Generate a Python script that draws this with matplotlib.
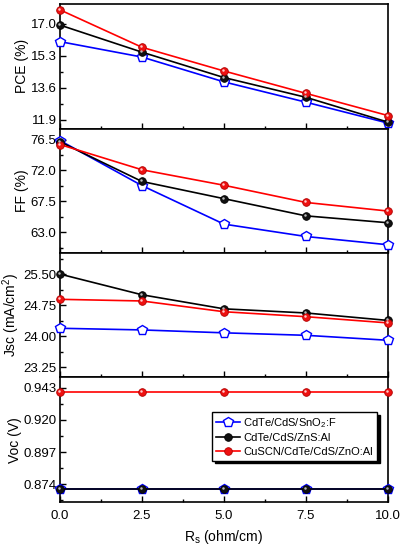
import numpy as np
import matplotlib
matplotlib.use('Agg')
import matplotlib.pyplot as plt
from matplotlib.ticker import MultipleLocator, AutoMinorLocator
from matplotlib.transforms import offset_copy

matplotlib.rcParams['font.family'] = ['Liberation Sans', 'DejaVu Sans']
matplotlib.rcParams['mathtext.fontset'] = 'custom'
matplotlib.rcParams['mathtext.rm'] = 'Liberation Sans'
matplotlib.rcParams['mathtext.it'] = 'Liberation Sans'
matplotlib.rcParams['axes.linewidth'] = 1.2
matplotlib.rcParams['xtick.direction'] = 'in'
matplotlib.rcParams['ytick.direction'] = 'in'

rs = [0.0, 2.5, 5.0, 7.5, 10.0]
labels = ['CdTe/CdS/SnO$_2$:F', 'CdTe/CdS/ZnS:Al', 'CuSCN/CdTe/CdS/ZnO:Al']

pce_sno2 = [16.05, 15.23, 13.91, 12.83, 11.72]
pce_zns = [16.93, 15.49, 14.14, 13.09, 11.77]
pce_cuscn = [17.74, 15.75, 14.49, 13.30, 12.12]

ff_sno2 = [76.35, 69.8, 64.2, 62.4, 61.2]
ff_zns = [76.16, 70.4, 67.9, 65.4, 64.4]
ff_cuscn = [75.77, 72.1, 69.85, 67.35, 66.1]

jsc_sno2 = [24.19, 24.15, 24.08, 24.02, 23.90]
jsc_zns = [25.50, 25.00, 24.66, 24.56, 24.38]
jsc_cuscn = [24.89, 24.85, 24.59, 24.47, 24.32]

voc_sno2 = [0.8702, 0.8702, 0.8702, 0.8702, 0.8702]
voc_zns = [0.8702, 0.8702, 0.8702, 0.8702, 0.8702]
voc_cuscn = [0.9401, 0.9401, 0.9401, 0.9401, 0.9401]

panels = [
    ('PCE (%)', [pce_sno2, pce_zns, pce_cuscn], (11.43, 18.05), [11.9, 13.6, 15.3, 17.0], '%.1f'),
    ('FF (%)', [ff_sno2, ff_zns, ff_cuscn], (60.0, 78.1), [63.0, 67.5, 72.0, 76.5], '%.1f'),
    ('Jsc (mA/cm$^2$)', [jsc_sno2, jsc_zns, jsc_cuscn], (23.0, 26.01), [23.25, 24.0, 24.75, 25.5], '%.2f'),
    ('Voc (V)', [voc_sno2, voc_zns, voc_cuscn], (0.8612, 0.9504), [0.874, 0.897, 0.920, 0.943], '%.3f'),
]

fig, axes = plt.subplots(4, 1, sharex=True, figsize=(4.04, 5.5), dpi=100)
fig.subplots_adjust(left=0.1485, right=0.960, top=0.9927, bottom=0.0873, hspace=0)

for ax, (ylab, series, ylim, yt, fmt) in zip(axes, panels):
    s1, s2, s3 = series
    ax.plot(rs, s1, color='blue', lw=1.2, marker='p', markersize=7.5,
            mfc='white', mec='blue', mew=1.0, clip_on=False, zorder=3, label=labels[0])
    ax.plot(rs, s2, color='black', lw=1.2, marker='o', markersize=5.5,
            mfc='#111111', mec='black', mew=0.6, clip_on=False, zorder=4, label=labels[1])
    ax.plot(rs, s3, color='red', lw=1.2, marker='o', markersize=5.5,
            mfc='#ee1111', mec='#b00000', mew=0.6, clip_on=False, zorder=5, label=labels[2])
    # little highlight on the balls
    hl = offset_copy(ax.transData, fig=fig, x=-0.7, y=0.7, units='points')
    ax.plot(rs, s2, ls='', marker='o', markersize=1.8, mfc='#bbbbbb', mec='none',
            transform=hl, clip_on=False, zorder=6)
    ax.plot(rs, s3, ls='', marker='o', markersize=1.8, mfc='#ffcccc', mec='none',
            transform=hl, clip_on=False, zorder=6)

    ax.set_ylim(ylim)
    ax.set_yticks(yt)
    ax.set_yticklabels([fmt % v for v in yt])
    ax.yaxis.set_minor_locator(AutoMinorLocator(2))
    ax.set_ylabel(ylab, fontsize=10, labelpad=1)
    ax.tick_params(axis='both', which='major', labelsize=9.5, length=4, width=1, pad=2.5,
                   top=False, right=False)
    ax.tick_params(axis='both', which='minor', length=2, width=1, top=False, right=False)

axes[-1].set_xlim(0, 10)
axes[-1].xaxis.set_major_locator(MultipleLocator(2.5))
axes[-1].xaxis.set_minor_locator(MultipleLocator(1.25))
axes[-1].xaxis.set_major_formatter(matplotlib.ticker.FormatStrFormatter('%.1f'))
axes[-1].tick_params(axis='x', pad=6)
axes[-1].set_xlabel('R$_\\mathrm{s}$ (ohm/cm)', fontsize=10, labelpad=4)

leg = axes[-1].legend(loc='upper left', bbox_to_anchor=(0.463, 0.72), fontsize=8,
                      frameon=True, fancybox=False, edgecolor='black', framealpha=1,
                      shadow={'color': 'black', 'alpha': 1}, labelspacing=0.3,
                      handlelength=2.2, handletextpad=0.3, borderpad=0.35,
                      borderaxespad=0, numpoints=1)
leg.get_frame().set_linewidth(1.0)

plt.savefig('out.png', dpi=100)
